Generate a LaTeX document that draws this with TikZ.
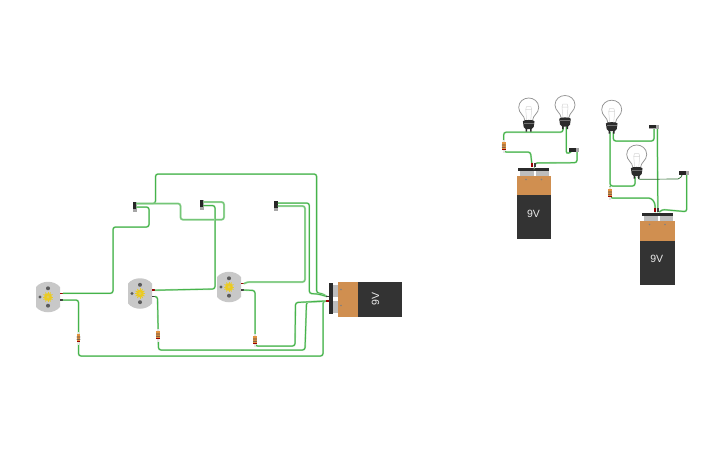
\documentclass[tikz,border=0pt]{standalone}
\usepackage{fontspec}
\setmainfont{Liberation Sans}
\definecolor{wirecol}{HTML}{45B34A}
\definecolor{wirehalo}{HTML}{B4E0B6}
\definecolor{orangebat}{HTML}{D08F50}
\definecolor{darkbat}{HTML}{333333}
\definecolor{capblack}{HTML}{2B2B2B}
\definecolor{termgray}{HTML}{BDBDBD}
\definecolor{motorgray}{HTML}{C8C8C8}
\definecolor{motordot}{HTML}{5A5A5A}
\definecolor{gearcol}{HTML}{EBCB20}
\tikzset{
  x=1pt,y=-1pt,
  wire/.style={draw=wirecol,line width=1pt,rounded corners=2.5pt,line cap=round,preaction={draw=wirehalo,line width=1.8pt}},
  wiref/.style={draw=wirecol!75!white,line width=1.2pt,rounded corners=2.5pt,line cap=round,preaction={draw=wirehalo,line width=2pt}},
  thinwire/.style={draw=wirecol!60!black,line width=0.7pt,rounded corners=2pt,line cap=round},
  batbody/.style={rectangle,draw=none,minimum width=0pt,inner sep=0pt,anchor=north west},
  batlabel/.style={text=white!92!black,font=\fontsize{10.5}{10.5}\selectfont,inner sep=0pt},
  redpin/.style={fill=red!60!black,draw=none},
  blackpin/.style={fill=black!75,draw=none},
  dcmotor/.pic={
    \fill[motorgray] (-12,-10) .. controls (-6,-17) and (6,-17) .. (12,-10) -- (12,10) .. controls (6,17) and (-6,17) .. (-12,10) -- cycle;
    \fill[motordot] (0,-8.7) circle (2) (-8,0) circle (1.7) (0,8.7) circle (2);
    \foreach \a in {0,30,...,330} {\draw[gearcol,line width=0.8pt] (\a:3) -- (\a:5.2);}
    \fill[gearcol] (0,0) circle (3.8);
    \fill[gearcol!65!motorgray] (0,0) circle (1.6);
    \fill[redpin] (12,-4.2) rectangle (15,-2.6);
    \fill[blackpin] (12,2.2) rectangle (15,3.8);
  },
  resistorv/.pic={
    \fill[black!10] (-0.9,-6.5) rectangle (0.9,6.5);
    \fill[orange!50!brown!85!white] (-1.8,-4) rectangle (1.8,4);
    \fill[black!70] (-1.8,-1.5) rectangle (1.8,-0.6) (-1.8,0.8) rectangle (1.8,1.7);
    \fill[red!60!black] (-1.8,2.6) rectangle (1.8,3.4);
  },
  switchv/.pic={
    \fill[black!35] (-2,-5) rectangle (2,5);
    \fill[black!85] (-1.6,-4.6) rectangle (1.6,2.2);
  },
  switchh/.pic={
    \fill[black!35] (-5,-2) rectangle (5,2);
    \fill[black!85] (-4.6,-1.6) rectangle (2.2,1.6);
  },
  lamp/.pic={
    \draw[black!42,fill=white,line width=0.75pt] (-3.8,12) .. controls (-4.2,6.5) and (-10,5) .. (-10,-1) .. controls (-10,-7) and (-5,-10.5) .. (0,-10.5) .. controls (5,-10.5) and (10,-7) .. (10,-1) .. controls (10,5) and (4.2,6.5) .. (3.8,12) -- cycle;
    \draw[black!16,line width=0.5pt] (-2,12) -- (-3,1) -- (3,1) -- (2,12) (-3,1) -- (-2.2,-2) -- (2.2,-2) -- (3,1);
    \fill[capblack] (-5.8,12.8) .. controls (-5.8,11) and (5.8,11) .. (5.8,12.8) -- (5,18.5) -- (3,20.5) -- (3,23) -- (1.5,23) -- (1.5,20.5) -- (-1.5,20.5) -- (-1.5,23) -- (-3,23) -- (-3,20.5) -- (-5,18.5) -- cycle;
    \fill[black!55] (-5.2,14.4) rectangle (5.2,15);
  },
}
\begin{document}
\begin{tikzpicture}
\useasboundingbox (0,0) rectangle (725,453);
\fill[white] (0,0) rectangle (725,453);

% ---------- main circuit: components
\pic at (48,297) {dcmotor};
\pic at (140,293.5) {dcmotor};
\pic at (229,287) {dcmotor};
\pic at (134.5,206.5) {switchv};
\pic at (201.5,205) {switchv};
\pic at (276,205.5) {switchv};

% horizontal battery
\node[batbody,fill=termgray,minimum width=6pt,minimum height=12pt] (hbtA) at (332,285) {};
\node[batbody,fill=termgray,minimum width=6pt,minimum height=12pt] (hbtB) at (332,300.5) {};
\node[batbody,fill=capblack,minimum width=3.5pt,minimum height=31pt] (hbcap) at (329,283) {};
\node[batbody,fill=orangebat,minimum width=19.5pt,minimum height=34.5pt] (hbor) at (338,282) {};
\node[batbody,fill=darkbat,minimum width=44pt,minimum height=34.5pt] (hbdk) at (357.5,282) {};
\node[batlabel,rotate=90] (hblab) at (375.5,299) {9V};
\fill[black!50] (341,289.5) circle (0.8) (341,305.5) circle (0.8);

% named wire ends
\coordinate (m1r) at (63,293.3);
\coordinate (m1b) at (63,300);
\coordinate (m2r) at (155,290.2);
\coordinate (m2b) at (155,296.5);
\coordinate (m3r) at (244,283.7);
\coordinate (m3b) at (244,290);
\coordinate (s1a) at (136.5,203.5);
\coordinate (s1b) at (136.5,207);
\coordinate (s2a) at (203.5,202);
\coordinate (s2b) at (203.5,205.5);
\coordinate (s3a) at (278,203);
\coordinate (s3b) at (278,206);
\coordinate (bp) at (327,296.5);
\coordinate (bn) at (327,301);

% main wires
\draw[wire] (m1r) -- (113,293.3) -- (113,227) -- (149,227) -- (149,207) -- (s1b);
\draw[wire] (m1b) -- (78.5,300) -- (78.5,356) -- (323,356) -- (323,301) -- (bn);
\draw[wire] (s1a) -- (155.5,203.5) -- (155.5,174) -- (316.6,174) -- (316.6,293) -- (322,293.5) -- (bp);
\draw[wiref] (s1a) -- (180.5,203.5) -- (180.5,219.7) -- (224,219.7) -- (224,202) -- (s2a);
\draw[wire] (s2b) -- (215,205.5) -- (215,289) -- (m2r);
\draw[wire] (m2b) -- (157.5,296.5) -- (158.5,350) -- (305,350) -- (306.5,302) -- (bn);
\draw[wiref] (m3r) -- (247,282) -- (305,282) -- (305,206) -- (s3b);
\draw[wire] (s3a) -- (309.3,203) -- (309.3,293.5) -- (318,294) -- (bp);
\draw[wire] (m3b) -- (255,290.5) -- (255,346) -- (295,346) -- (295.5,302.5) -- (bn);

% main resistors (over the wires)
\pic at (78.5,338) {resistorv};
\pic at (158,335) {resistorv};
\pic at (255,340) {resistorv};
\fill[blackpin] (326,295.5) rectangle (329,297);
\fill[redpin] (326,300.3) rectangle (329,301.8);

% ---------- second circuit
\node[batbody,fill=termgray,minimum width=14pt,minimum height=6pt] (b2tA) at (519.5,170.5) {};
\node[batbody,fill=termgray,minimum width=13pt,minimum height=6pt] (b2tB) at (536,170.5) {};
\node[batbody,fill=capblack,minimum width=31pt,minimum height=3.5pt] (b2cap) at (518,167.3) {};
\node[batbody,fill=orangebat,minimum width=34.5pt,minimum height=19.5pt] (b2or) at (516.3,176) {};
\node[batbody,fill=darkbat,minimum width=34.5pt,minimum height=44pt] (b2dk) at (516.3,195) {};
\node[batlabel] (b2lab) at (533.5,214) {9V};
\fill[black!50] (526,179.5) circle (0.8) (541.5,179.5) circle (0.8);
\coordinate (l2) at (563,127);
\coordinate (l2b) at (566.3,127);
\coordinate (sw2a) at (571,152);
\coordinate (sw2b) at (577,152);
\coordinate (b2p) at (532,165);
\coordinate (b2n) at (534.7,165);
\draw[wire] (l2) -- (563,132.2) -- (503.7,132.2) -- (503.7,152) -- (530.5,152) -- (b2p);
\draw[wire] (l2b) -- (566.3,154) -- (sw2a);
\draw[wire] (b2n) -- (534.7,163) -- (577,162.7) -- (sw2b);
\pic at (528.7,108.5) {lamp};
\pic at (565,106) {lamp};
\pic at (574,150) {switchh};
\pic at (503.7,146) {resistorv};
\fill[redpin] (531.2,163) rectangle (532.8,167.3);
\fill[blackpin] (533.9,163) rectangle (535.5,167.3);

% ---------- third circuit
\node[batbody,fill=termgray,minimum width=14pt,minimum height=6pt] (b3tA) at (643.5,215.5) {};
\node[batbody,fill=termgray,minimum width=13pt,minimum height=6pt] (b3tB) at (659.5,215.5) {};
\node[batbody,fill=capblack,minimum width=31pt,minimum height=3.7pt] (b3cap) at (641.7,212.3) {};
\node[batbody,fill=orangebat,minimum width=35pt,minimum height=19.5pt] (b3or) at (639.3,221) {};
\node[batbody,fill=darkbat,minimum width=35pt,minimum height=44pt] (b3dk) at (639.3,240.3) {};
\node[batlabel] (b3lab) at (656.8,259) {9V};
\fill[black!50] (649.5,224.5) circle (0.8) (665,224.5) circle (0.8);
\coordinate (l3a) at (610,132);
\coordinate (l3b) at (613.3,132);
\coordinate (l4a) at (635,177);
\coordinate (l4b) at (638,177);
\coordinate (sw4a) at (654,129);
\coordinate (sw4b) at (657.4,129);
\coordinate (sw5a) at (682,175);
\coordinate (sw5b) at (686.7,175);
\coordinate (b3p) at (655,212);
\coordinate (b3n) at (657.8,212);
\coordinate (b3m) at (659.5,212);
\coordinate (j3) at (610,186);
\draw[wire] (l3a) -- (j3) -- (635,186) -- (l4a);
\draw[wire] (j3) -- (610,198) -- (651,198) -- (655,203) -- (b3p);
\draw[wire] (l3b) -- (613.3,141) -- (654,141) -- (sw4a);
\draw[wire] (sw4b) -- (657.5,160) -- (657.7,185) -- (b3n);
\draw[thinwire] (l4b) -- (638,179.3) -- (680,179) -- (sw5a);
\draw[wire] (sw5b) -- (686.7,211.7) -- (662,209.5) -- (b3m);
\pic at (611.7,110.7) {lamp};
\pic at (636.7,155.5) {lamp};
\pic at (654,126.7) {switchh};
\pic at (684,173) {switchh};
\pic at (610,193) {resistorv};
\fill[redpin] (654.2,208) rectangle (655.8,212.3);
\fill[blackpin] (657,208) rectangle (658.6,212.3);
\end{tikzpicture}
\end{document}
